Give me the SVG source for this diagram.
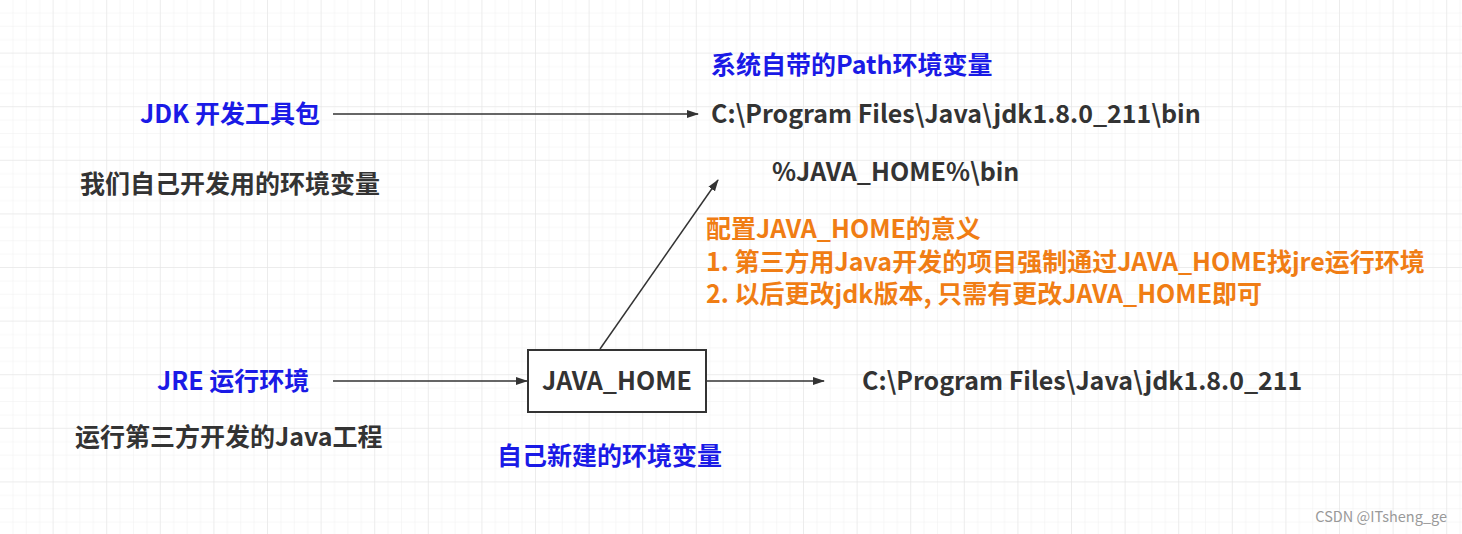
<svg xmlns="http://www.w3.org/2000/svg" width="1462" height="534" viewBox="0 0 1462 534">
<defs>
<pattern id="minor" width="13.4" height="13.4" patternUnits="userSpaceOnUse"><path d="M13.4 0V13.4H0" fill="none" stroke="#f0f0f0" stroke-width="1"/></pattern>
<pattern id="major" width="53.6" height="53.6" patternUnits="userSpaceOnUse"><rect width="53.6" height="53.6" fill="url(#minor)"/><path d="M53.6 0V53.6H0" fill="none" stroke="#e2e2e2" stroke-width="1"/></pattern>
<marker id="ah" markerWidth="12" markerHeight="10" refX="11" refY="5" orient="auto" markerUnits="userSpaceOnUse"><path d="M0 1L12 5L0 9Z" fill="#333"/></marker>
<style>
text{font-family:"Microsoft YaHei","Noto Sans CJK SC",sans-serif;font-weight:bold;font-size:25px}
.b{fill:#1a1ae6}.k{fill:#333}.o{fill:#f07d14}
.c{stroke:#333;stroke-width:1.5;fill:none;marker-end:url(#ah)}
</style>
</defs>
<rect width="1462" height="534" fill="#fff"/>
<rect width="1462" height="534" fill="url(#major)"/>
<g id="connectors">
<line class="c" x1="333" y1="114" x2="698" y2="114"/>
<line class="c" x1="333" y1="381" x2="527" y2="381"/>
<line class="c" x1="706" y1="381" x2="824" y2="381"/>
<line class="c" x1="600" y1="349" x2="718" y2="180"/>
</g>
<g id="jdk"><text class="b" x="140" y="123">JDK 开发工具包</text></g>
<g id="own"><text class="k" x="80" y="193">我们自己开发用的环境变量</text></g>
<g id="jre"><text class="b" x="157" y="390">JRE 运行环境</text></g>
<g id="third"><text class="k" x="75" y="446">运行第三方开发的Java工程</text></g>
<g id="javahome"><rect x="528" y="350" width="178" height="62" fill="#fff" stroke="#333" stroke-width="2"/><text class="k" x="617" y="390" text-anchor="middle">JAVA_HOME</text></g>
<g id="newvar"><text class="b" x="497" y="465">自己新建的环境变量</text></g>
<g id="syspath"><text class="b" x="711" y="74">系统自带的Path环境变量</text></g>
<g id="binpath"><text class="k" x="711" y="123">C:\Program Files\Java\jdk1.8.0_211\bin</text></g>
<g id="jhbin"><text class="k" x="772" y="181">%JAVA_HOME%\bin</text></g>
<g id="meaning">
<text class="o" x="706" y="238">配置JAVA_HOME的意义</text>
<text class="o" x="706" y="271">1. 第三方用Java开发的项目强制通过JAVA_HOME找jre运行环境</text>
<text class="o" x="706" y="303">2. 以后更改jdk版本, 只需有更改JAVA_HOME即可</text>
</g>
<g id="jdkpath"><text class="k" x="862" y="390">C:\Program Files\Java\jdk1.8.0_211</text></g>
<text x="1447" y="522" text-anchor="end" style="font-size:14.5px;font-weight:normal;fill:#999">CSDN @ITsheng_ge</text>
</svg>
